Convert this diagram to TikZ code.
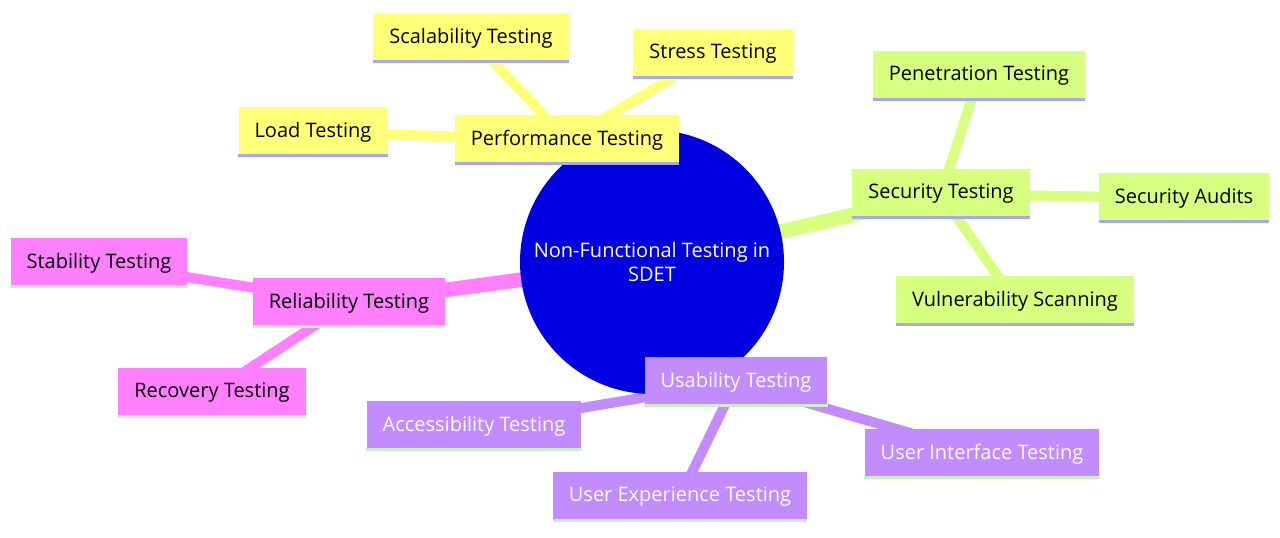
\documentclass[tikz,border=0pt]{standalone}
\usepackage{fontspec}
\setmainfont{Open Sans}
\usetikzlibrary{positioning,calc,backgrounds}
\definecolor{perf}{HTML}{FFFF78}
\definecolor{sec}{HTML}{D7FF80}
\definecolor{rel}{HTML}{FF80FF}
\definecolor{usa}{HTML}{C28CFF}
\definecolor{rootc}{HTML}{0000E0}
\definecolor{lineb}{HTML}{A8A8F0}
\definecolor{lineg}{HTML}{C8F0C0}
\tikzset{
    topic/.style = {rectangle,
                    draw=none,
                    text=black,
                    inner xsep=12pt,
                    minimum height=37pt,
                    font=\fontsize{15}{18}\selectfont},
    branch/.style = {line width=11pt},
    twig/.style =   {line width=7.5pt},
    root/.style =   {circle,
                    fill=rootc,
                    text=white,
                    minimum size=198pt,
                    align=center,
                    font=\fontsize{15}{18}\selectfont}
}
% underline below each box
\newcommand{\uline}[2]{\draw[#2,line width=2.2pt] ([yshift=1.1pt]#1.south west) -- ([yshift=1.1pt]#1.south east);}
\begin{document}
\begin{tikzpicture}[x=0.75pt,y=-0.75pt]
    \useasboundingbox (0,0) rectangle (1280,537);
    \node[root] (R) at (652,262) {Non-Functional Testing in\\SDET};

    \node[topic,fill=perf] (P)  at (567,140) {Performance Testing};
    \node[topic,fill=perf] (P1) at (471,38)  {Scalability Testing};
    \node[topic,fill=perf] (P2) at (713,54)  {Stress Testing};
    \node[topic,fill=perf] (P3) at (313,132) {Load Testing};

    \node[topic,fill=sec] (S)  at (941,194)  {Security Testing};
    \node[topic,fill=sec] (S1) at (979,76)   {Penetration Testing};
    \node[topic,fill=sec] (S2) at (1184,198) {Security Audits};
    \node[topic,fill=sec] (S3) at (1015,301) {Vulnerability Scanning};

    \node[topic,fill=rel] (L)  at (349,303) {Reliability Testing};
    \node[topic,fill=rel] (L1) at (99,263)  {Stability Testing};
    \node[topic,fill=rel] (L2) at (212,393) {Recovery Testing};

    \node[topic,fill=usa,text=white] (U)  at (736,382) {Usability Testing};
    \node[topic,fill=usa,text=white] (U1) at (474,426) {Accessibility Testing};
    \node[topic,fill=usa,text=white] (U2) at (982,454) {User Interface Testing};
    \node[topic,fill=usa,text=white] (U3) at (680,497) {User Experience Testing};

    \foreach \n in {P,P1,P2,P3} {\uline{\n}{lineb}}
    \foreach \n in {S,S1,S2,S3} {\uline{\n}{lineb}}
    \foreach \n in {L,L1,L2,U,U1,U2,U3} {\uline{\n}{lineg}}

    % connectors, behind the boxes
    \begin{scope}[on background layer]
        \draw[branch,perf] (R.center) -- (P.center);
        \draw[branch,sec]  (R.center) -- (S.center);
        \draw[branch,rel]  (R.center) -- (L.center);
        \draw[branch,usa]  (R.center) -- (U.center);
        \draw[twig,perf] (P.center) -- (P1.center)  (P.center) -- (P2.center)  (P.center) -- (P3.center);
        \draw[twig,sec]  (S.center) -- (S1.center)  (S.center) -- (S2.center)  (S.center) -- (S3.center);
        \draw[twig,rel]  (L.center) -- (L1.center)  (L.center) -- (L2.center);
        \draw[twig,usa]  (U.center) -- (U1.center)  (U.center) -- (U2.center)  (U.center) -- (U3.center);
    \end{scope}
\end{tikzpicture}
\end{document}
